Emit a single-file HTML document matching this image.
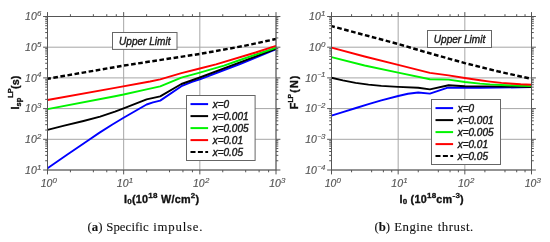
<!DOCTYPE html>
<html><head><meta charset="utf-8"><title>Figure</title>
<style>
html,body{margin:0;padding:0;background:#fff;}
body{filter:blur(0.3px);width:550px;height:242px;overflow:hidden;position:relative;}
svg{position:absolute;left:0;top:0;display:block;}
.capline{position:absolute;left:0;top:0;width:550px;height:0;font-size:0;}
.cap{position:absolute;display:block;-webkit-text-stroke:0.1px #111;font-family:"Liberation Serif",serif;font-size:12.8px;color:#111;white-space:nowrap;line-height:14px;top:220.2px;}
</style></head><body>
<svg width="550" height="242" viewBox="0 0 550 242">
<rect width="550" height="242" fill="#fff"/>
<line x1="47.50" y1="16.5" x2="47.50" y2="170.0" stroke="#a6a6a6" stroke-width="1"/>
<line x1="123.67" y1="16.5" x2="123.67" y2="170.0" stroke="#a6a6a6" stroke-width="1"/>
<line x1="199.83" y1="16.5" x2="199.83" y2="170.0" stroke="#a6a6a6" stroke-width="1"/>
<line x1="276.00" y1="16.5" x2="276.00" y2="170.0" stroke="#a6a6a6" stroke-width="1"/>
<line x1="47.5" y1="16.50" x2="276.0" y2="16.50" stroke="#a6a6a6" stroke-width="1"/>
<line x1="47.5" y1="47.20" x2="276.0" y2="47.20" stroke="#a6a6a6" stroke-width="1"/>
<line x1="47.5" y1="77.90" x2="276.0" y2="77.90" stroke="#a6a6a6" stroke-width="1"/>
<line x1="47.5" y1="108.60" x2="276.0" y2="108.60" stroke="#a6a6a6" stroke-width="1"/>
<line x1="47.5" y1="139.30" x2="276.0" y2="139.30" stroke="#a6a6a6" stroke-width="1"/>
<line x1="47.5" y1="170.00" x2="276.0" y2="170.00" stroke="#a6a6a6" stroke-width="1"/>
<clipPath id="c47"><rect x="47.5" y="16.5" width="228.5" height="153.5"/></clipPath>
<g clip-path="url(#c47)" fill="none" stroke-width="1.9" stroke-linejoin="round">
<polyline points="47.50,168.20 67.40,154.50 87.30,141.00 99.20,132.90 112.00,124.70 123.60,117.80 146.60,104.50 153.00,102.40 160.20,100.60 181.40,86.20 192.00,81.80 199.80,79.30 240.00,64.00 276.00,49.20" stroke="#0000ff"/>
<polyline points="47.50,129.80 64.20,125.70 83.50,121.00 100.10,116.60 115.00,111.60 123.60,108.40 146.60,99.40 160.20,96.40 181.40,84.00 199.80,77.50 240.00,62.30 276.00,48.70" stroke="#000000"/>
<polyline points="47.50,109.10 115.00,96.20 123.60,94.50 146.60,89.40 160.20,86.40 181.40,77.60 199.80,72.60 224.00,65.60 240.00,60.00 276.00,47.70" stroke="#00f400"/>
<polyline points="47.50,100.00 115.00,87.85 150.00,81.50 160.20,79.40 181.40,73.10 199.80,68.50 216.00,64.40 255.60,52.50 276.00,45.80" stroke="#ff0000"/>
<polyline points="47.50,78.80 123.60,65.60 200.00,53.90 243.60,46.00 276.00,39.00" stroke="#000000" stroke-dasharray="4.65 2.52" stroke-width="2.45" stroke-dashoffset="1.25"/>
</g>
<g stroke="#555555" stroke-width="1" fill="none">
<rect x="47.5" y="16.5" width="228.5" height="153.5"/>
<line x1="47.50" y1="12.1" x2="47.50" y2="16.5"/>
<line x1="47.50" y1="170.0" x2="47.50" y2="174.4"/>
<line x1="70.43" y1="14.2" x2="70.43" y2="16.5"/>
<line x1="70.43" y1="170.0" x2="70.43" y2="172.3"/>
<line x1="93.36" y1="14.2" x2="93.36" y2="16.5"/>
<line x1="93.36" y1="170.0" x2="93.36" y2="172.3"/>
<line x1="106.77" y1="14.2" x2="106.77" y2="16.5"/>
<line x1="106.77" y1="170.0" x2="106.77" y2="172.3"/>
<line x1="116.29" y1="14.2" x2="116.29" y2="16.5"/>
<line x1="116.29" y1="170.0" x2="116.29" y2="172.3"/>
<line x1="123.67" y1="12.1" x2="123.67" y2="16.5"/>
<line x1="123.67" y1="170.0" x2="123.67" y2="174.4"/>
<line x1="146.60" y1="14.2" x2="146.60" y2="16.5"/>
<line x1="146.60" y1="170.0" x2="146.60" y2="172.3"/>
<line x1="169.52" y1="14.2" x2="169.52" y2="16.5"/>
<line x1="169.52" y1="170.0" x2="169.52" y2="172.3"/>
<line x1="182.94" y1="14.2" x2="182.94" y2="16.5"/>
<line x1="182.94" y1="170.0" x2="182.94" y2="172.3"/>
<line x1="192.45" y1="14.2" x2="192.45" y2="16.5"/>
<line x1="192.45" y1="170.0" x2="192.45" y2="172.3"/>
<line x1="199.83" y1="12.1" x2="199.83" y2="16.5"/>
<line x1="199.83" y1="170.0" x2="199.83" y2="174.4"/>
<line x1="222.76" y1="14.2" x2="222.76" y2="16.5"/>
<line x1="222.76" y1="170.0" x2="222.76" y2="172.3"/>
<line x1="245.69" y1="14.2" x2="245.69" y2="16.5"/>
<line x1="245.69" y1="170.0" x2="245.69" y2="172.3"/>
<line x1="259.10" y1="14.2" x2="259.10" y2="16.5"/>
<line x1="259.10" y1="170.0" x2="259.10" y2="172.3"/>
<line x1="268.62" y1="14.2" x2="268.62" y2="16.5"/>
<line x1="268.62" y1="170.0" x2="268.62" y2="172.3"/>
<line x1="276.00" y1="12.1" x2="276.00" y2="16.5"/>
<line x1="276.00" y1="170.0" x2="276.00" y2="174.4"/>
<line x1="43.1" y1="16.50" x2="47.5" y2="16.50"/>
<line x1="276.0" y1="16.50" x2="280.4" y2="16.50"/>
<line x1="45.2" y1="37.96" x2="47.5" y2="37.96"/>
<line x1="276.0" y1="37.96" x2="278.3" y2="37.96"/>
<line x1="45.2" y1="32.55" x2="47.5" y2="32.55"/>
<line x1="276.0" y1="32.55" x2="278.3" y2="32.55"/>
<line x1="45.2" y1="28.72" x2="47.5" y2="28.72"/>
<line x1="276.0" y1="28.72" x2="278.3" y2="28.72"/>
<line x1="45.2" y1="25.74" x2="47.5" y2="25.74"/>
<line x1="276.0" y1="25.74" x2="278.3" y2="25.74"/>
<line x1="45.2" y1="23.31" x2="47.5" y2="23.31"/>
<line x1="276.0" y1="23.31" x2="278.3" y2="23.31"/>
<line x1="45.2" y1="21.26" x2="47.5" y2="21.26"/>
<line x1="276.0" y1="21.26" x2="278.3" y2="21.26"/>
<line x1="45.2" y1="19.48" x2="47.5" y2="19.48"/>
<line x1="276.0" y1="19.48" x2="278.3" y2="19.48"/>
<line x1="45.2" y1="17.90" x2="47.5" y2="17.90"/>
<line x1="276.0" y1="17.90" x2="278.3" y2="17.90"/>
<line x1="43.1" y1="47.20" x2="47.5" y2="47.20"/>
<line x1="276.0" y1="47.20" x2="280.4" y2="47.20"/>
<line x1="45.2" y1="68.66" x2="47.5" y2="68.66"/>
<line x1="276.0" y1="68.66" x2="278.3" y2="68.66"/>
<line x1="45.2" y1="63.25" x2="47.5" y2="63.25"/>
<line x1="276.0" y1="63.25" x2="278.3" y2="63.25"/>
<line x1="45.2" y1="59.42" x2="47.5" y2="59.42"/>
<line x1="276.0" y1="59.42" x2="278.3" y2="59.42"/>
<line x1="45.2" y1="56.44" x2="47.5" y2="56.44"/>
<line x1="276.0" y1="56.44" x2="278.3" y2="56.44"/>
<line x1="45.2" y1="54.01" x2="47.5" y2="54.01"/>
<line x1="276.0" y1="54.01" x2="278.3" y2="54.01"/>
<line x1="45.2" y1="51.96" x2="47.5" y2="51.96"/>
<line x1="276.0" y1="51.96" x2="278.3" y2="51.96"/>
<line x1="45.2" y1="50.18" x2="47.5" y2="50.18"/>
<line x1="276.0" y1="50.18" x2="278.3" y2="50.18"/>
<line x1="45.2" y1="48.60" x2="47.5" y2="48.60"/>
<line x1="276.0" y1="48.60" x2="278.3" y2="48.60"/>
<line x1="43.1" y1="77.90" x2="47.5" y2="77.90"/>
<line x1="276.0" y1="77.90" x2="280.4" y2="77.90"/>
<line x1="45.2" y1="99.36" x2="47.5" y2="99.36"/>
<line x1="276.0" y1="99.36" x2="278.3" y2="99.36"/>
<line x1="45.2" y1="93.95" x2="47.5" y2="93.95"/>
<line x1="276.0" y1="93.95" x2="278.3" y2="93.95"/>
<line x1="45.2" y1="90.12" x2="47.5" y2="90.12"/>
<line x1="276.0" y1="90.12" x2="278.3" y2="90.12"/>
<line x1="45.2" y1="87.14" x2="47.5" y2="87.14"/>
<line x1="276.0" y1="87.14" x2="278.3" y2="87.14"/>
<line x1="45.2" y1="84.71" x2="47.5" y2="84.71"/>
<line x1="276.0" y1="84.71" x2="278.3" y2="84.71"/>
<line x1="45.2" y1="82.66" x2="47.5" y2="82.66"/>
<line x1="276.0" y1="82.66" x2="278.3" y2="82.66"/>
<line x1="45.2" y1="80.88" x2="47.5" y2="80.88"/>
<line x1="276.0" y1="80.88" x2="278.3" y2="80.88"/>
<line x1="45.2" y1="79.30" x2="47.5" y2="79.30"/>
<line x1="276.0" y1="79.30" x2="278.3" y2="79.30"/>
<line x1="43.1" y1="108.60" x2="47.5" y2="108.60"/>
<line x1="276.0" y1="108.60" x2="280.4" y2="108.60"/>
<line x1="45.2" y1="130.06" x2="47.5" y2="130.06"/>
<line x1="276.0" y1="130.06" x2="278.3" y2="130.06"/>
<line x1="45.2" y1="124.65" x2="47.5" y2="124.65"/>
<line x1="276.0" y1="124.65" x2="278.3" y2="124.65"/>
<line x1="45.2" y1="120.82" x2="47.5" y2="120.82"/>
<line x1="276.0" y1="120.82" x2="278.3" y2="120.82"/>
<line x1="45.2" y1="117.84" x2="47.5" y2="117.84"/>
<line x1="276.0" y1="117.84" x2="278.3" y2="117.84"/>
<line x1="45.2" y1="115.41" x2="47.5" y2="115.41"/>
<line x1="276.0" y1="115.41" x2="278.3" y2="115.41"/>
<line x1="45.2" y1="113.36" x2="47.5" y2="113.36"/>
<line x1="276.0" y1="113.36" x2="278.3" y2="113.36"/>
<line x1="45.2" y1="111.58" x2="47.5" y2="111.58"/>
<line x1="276.0" y1="111.58" x2="278.3" y2="111.58"/>
<line x1="45.2" y1="110.00" x2="47.5" y2="110.00"/>
<line x1="276.0" y1="110.00" x2="278.3" y2="110.00"/>
<line x1="43.1" y1="139.30" x2="47.5" y2="139.30"/>
<line x1="276.0" y1="139.30" x2="280.4" y2="139.30"/>
<line x1="45.2" y1="160.76" x2="47.5" y2="160.76"/>
<line x1="276.0" y1="160.76" x2="278.3" y2="160.76"/>
<line x1="45.2" y1="155.35" x2="47.5" y2="155.35"/>
<line x1="276.0" y1="155.35" x2="278.3" y2="155.35"/>
<line x1="45.2" y1="151.52" x2="47.5" y2="151.52"/>
<line x1="276.0" y1="151.52" x2="278.3" y2="151.52"/>
<line x1="45.2" y1="148.54" x2="47.5" y2="148.54"/>
<line x1="276.0" y1="148.54" x2="278.3" y2="148.54"/>
<line x1="45.2" y1="146.11" x2="47.5" y2="146.11"/>
<line x1="276.0" y1="146.11" x2="278.3" y2="146.11"/>
<line x1="45.2" y1="144.06" x2="47.5" y2="144.06"/>
<line x1="276.0" y1="144.06" x2="278.3" y2="144.06"/>
<line x1="45.2" y1="142.28" x2="47.5" y2="142.28"/>
<line x1="276.0" y1="142.28" x2="278.3" y2="142.28"/>
<line x1="45.2" y1="140.70" x2="47.5" y2="140.70"/>
<line x1="276.0" y1="140.70" x2="278.3" y2="140.70"/>
<line x1="43.1" y1="170.00" x2="47.5" y2="170.00"/>
<line x1="276.0" y1="170.00" x2="280.4" y2="170.00"/>
</g>
<g font-family="'Liberation Sans', sans-serif" font-style="italic" font-size="10.5" fill="#555555" stroke="#555555" stroke-width="0.15">
<text x="40.70" y="187.3">10<tspan font-size="7.9" dy="-4.5" dx="0.2">0</tspan></text>
<text x="116.87" y="187.3">10<tspan font-size="7.9" dy="-4.5" dx="0.2">1</tspan></text>
<text x="193.03" y="187.3">10<tspan font-size="7.9" dy="-4.5" dx="0.2">2</tspan></text>
<text x="269.20" y="187.3">10<tspan font-size="7.9" dy="-4.5" dx="0.2">3</tspan></text>
<text x="41.50" y="20.30" text-anchor="end">10<tspan font-size="7.9" dy="-4.3" dx="0.3">6</tspan></text>
<text x="41.50" y="51.00" text-anchor="end">10<tspan font-size="7.9" dy="-4.3" dx="0.3">5</tspan></text>
<text x="41.50" y="81.70" text-anchor="end">10<tspan font-size="7.9" dy="-4.3" dx="0.3">4</tspan></text>
<text x="41.50" y="112.40" text-anchor="end">10<tspan font-size="7.9" dy="-4.3" dx="0.3">3</tspan></text>
<text x="41.50" y="143.10" text-anchor="end">10<tspan font-size="7.9" dy="-4.3" dx="0.3">2</tspan></text>
<text x="41.50" y="173.80" text-anchor="end">10<tspan font-size="7.9" dy="-4.3" dx="0.3">1</tspan></text>
</g>
<rect x="112.5" y="32.5" width="64.5" height="16.9" fill="#fff" stroke="#666" stroke-width="1"/>
<text x="144.75" y="44.60" text-anchor="middle" textLength="51.4" lengthAdjust="spacingAndGlyphs" font-family="'Liberation Sans', sans-serif" font-style="italic" font-size="10.3" fill="#1a1a1a" stroke="#1a1a1a" stroke-width="0.38">Upper Limit</text>
<rect x="186.5" y="95.5" width="68.6" height="65.0" fill="#fff" stroke="#666" stroke-width="1"/>
<line x1="190.5" y1="104.10" x2="208.1" y2="104.10" stroke="#0000ff" stroke-width="2"/>
<text x="212.7" y="107.70" font-family="'Liberation Sans', sans-serif" font-style="italic" font-size="10" fill="#1a1a1a" stroke="#1a1a1a" stroke-width="0.42">x=0</text>
<line x1="190.5" y1="116.10" x2="208.1" y2="116.10" stroke="#000000" stroke-width="2"/>
<text x="212.7" y="119.70" font-family="'Liberation Sans', sans-serif" font-style="italic" font-size="10" fill="#1a1a1a" stroke="#1a1a1a" stroke-width="0.42">x=0.001</text>
<line x1="190.5" y1="128.10" x2="208.1" y2="128.10" stroke="#00f400" stroke-width="2"/>
<text x="212.7" y="131.70" font-family="'Liberation Sans', sans-serif" font-style="italic" font-size="10" fill="#1a1a1a" stroke="#1a1a1a" stroke-width="0.42">x=0.005</text>
<line x1="190.5" y1="140.10" x2="208.1" y2="140.10" stroke="#ff0000" stroke-width="2"/>
<text x="212.7" y="143.70" font-family="'Liberation Sans', sans-serif" font-style="italic" font-size="10" fill="#1a1a1a" stroke="#1a1a1a" stroke-width="0.42">x=0.01</text>
<line x1="190.5" y1="152.10" x2="208.1" y2="152.10" stroke="#000000" stroke-width="2" stroke-dasharray="5 2.4"/>
<text x="212.7" y="155.70" font-family="'Liberation Sans', sans-serif" font-style="italic" font-size="10" fill="#1a1a1a" stroke="#1a1a1a" stroke-width="0.42">x=0.05</text>
<text transform="translate(18.6,109.4) rotate(-90)" font-family="'Liberation Sans', sans-serif" font-weight="bold" font-size="10.8" fill="#111" stroke="#111" stroke-width="0.33">I<tspan font-size="7.4" dy="2.2">sp</tspan><tspan font-size="7.4" dy="-7.6">LP</tspan><tspan dy="5.4" dx="-0.6">(s)</tspan></text>
<text x="124" y="202.6" font-family="'Liberation Sans', sans-serif" font-weight="bold" font-size="10.8" fill="#111" stroke="#111" stroke-width="0.33" letter-spacing="0.25">I<tspan font-size="8" dy="1.8">0</tspan><tspan dy="-1.8">(10</tspan><tspan font-size="8" dy="-4.4">18</tspan><tspan dy="4.4"> W/cm</tspan><tspan font-size="8" dy="-4.4">2</tspan><tspan dy="4.4">)</tspan></text>
<line x1="331.50" y1="16.5" x2="331.50" y2="170.0" stroke="#a6a6a6" stroke-width="1"/>
<line x1="398.17" y1="16.5" x2="398.17" y2="170.0" stroke="#a6a6a6" stroke-width="1"/>
<line x1="464.83" y1="16.5" x2="464.83" y2="170.0" stroke="#a6a6a6" stroke-width="1"/>
<line x1="531.50" y1="16.5" x2="531.50" y2="170.0" stroke="#a6a6a6" stroke-width="1"/>
<line x1="331.5" y1="16.50" x2="531.5" y2="16.50" stroke="#a6a6a6" stroke-width="1"/>
<line x1="331.5" y1="47.20" x2="531.5" y2="47.20" stroke="#a6a6a6" stroke-width="1"/>
<line x1="331.5" y1="77.90" x2="531.5" y2="77.90" stroke="#a6a6a6" stroke-width="1"/>
<line x1="331.5" y1="108.60" x2="531.5" y2="108.60" stroke="#a6a6a6" stroke-width="1"/>
<line x1="331.5" y1="139.30" x2="531.5" y2="139.30" stroke="#a6a6a6" stroke-width="1"/>
<line x1="331.5" y1="170.00" x2="531.5" y2="170.00" stroke="#a6a6a6" stroke-width="1"/>
<clipPath id="c331"><rect x="331.5" y="16.5" width="200.0" height="153.5"/></clipPath>
<g clip-path="url(#c331)" fill="none" stroke-width="1.9" stroke-linejoin="round">
<polyline points="331.50,115.70 342.80,112.20 356.00,108.00 368.50,104.10 381.30,100.40 398.20,96.00 408.00,93.80 418.20,92.50 429.90,93.60 447.80,87.60 480.00,87.80 531.50,87.15" stroke="#0000ff"/>
<polyline points="331.50,77.80 342.80,80.40 355.60,82.90 368.50,84.60 381.30,85.90 398.20,86.90 418.20,87.70 429.90,89.40 448.60,85.30 464.80,86.20 490.00,86.40 531.50,87.00" stroke="#000000"/>
<polyline points="331.50,57.20 364.60,65.50 398.20,72.60 429.90,79.20 448.60,79.60 464.80,82.00 480.00,83.60 490.00,84.40 501.50,85.00 520.70,85.80 531.50,86.10" stroke="#00f400"/>
<polyline points="331.50,47.60 364.60,56.50 398.20,64.80 429.90,72.90 448.60,75.40 464.80,78.00 480.00,80.30 490.00,81.60 501.50,82.90 520.70,84.30 531.50,84.80" stroke="#ff0000"/>
<polyline points="331.50,26.15 398.20,44.00 427.00,52.50 464.80,63.10 497.60,71.30 531.50,78.85" stroke="#000000" stroke-dasharray="4.65 2.52" stroke-width="2.45" stroke-dashoffset="1.25"/>
</g>
<g stroke="#555555" stroke-width="1" fill="none">
<rect x="331.5" y="16.5" width="200.0" height="153.5"/>
<line x1="331.50" y1="12.1" x2="331.50" y2="16.5"/>
<line x1="331.50" y1="170.0" x2="331.50" y2="174.4"/>
<line x1="351.57" y1="14.2" x2="351.57" y2="16.5"/>
<line x1="351.57" y1="170.0" x2="351.57" y2="172.3"/>
<line x1="371.64" y1="14.2" x2="371.64" y2="16.5"/>
<line x1="371.64" y1="170.0" x2="371.64" y2="172.3"/>
<line x1="383.38" y1="14.2" x2="383.38" y2="16.5"/>
<line x1="383.38" y1="170.0" x2="383.38" y2="172.3"/>
<line x1="391.71" y1="14.2" x2="391.71" y2="16.5"/>
<line x1="391.71" y1="170.0" x2="391.71" y2="172.3"/>
<line x1="398.17" y1="12.1" x2="398.17" y2="16.5"/>
<line x1="398.17" y1="170.0" x2="398.17" y2="174.4"/>
<line x1="418.24" y1="14.2" x2="418.24" y2="16.5"/>
<line x1="418.24" y1="170.0" x2="418.24" y2="172.3"/>
<line x1="438.30" y1="14.2" x2="438.30" y2="16.5"/>
<line x1="438.30" y1="170.0" x2="438.30" y2="172.3"/>
<line x1="450.04" y1="14.2" x2="450.04" y2="16.5"/>
<line x1="450.04" y1="170.0" x2="450.04" y2="172.3"/>
<line x1="458.37" y1="14.2" x2="458.37" y2="16.5"/>
<line x1="458.37" y1="170.0" x2="458.37" y2="172.3"/>
<line x1="464.83" y1="12.1" x2="464.83" y2="16.5"/>
<line x1="464.83" y1="170.0" x2="464.83" y2="174.4"/>
<line x1="484.90" y1="14.2" x2="484.90" y2="16.5"/>
<line x1="484.90" y1="170.0" x2="484.90" y2="172.3"/>
<line x1="504.97" y1="14.2" x2="504.97" y2="16.5"/>
<line x1="504.97" y1="170.0" x2="504.97" y2="172.3"/>
<line x1="516.71" y1="14.2" x2="516.71" y2="16.5"/>
<line x1="516.71" y1="170.0" x2="516.71" y2="172.3"/>
<line x1="525.04" y1="14.2" x2="525.04" y2="16.5"/>
<line x1="525.04" y1="170.0" x2="525.04" y2="172.3"/>
<line x1="531.50" y1="12.1" x2="531.50" y2="16.5"/>
<line x1="531.50" y1="170.0" x2="531.50" y2="174.4"/>
<line x1="327.1" y1="16.50" x2="331.5" y2="16.50"/>
<line x1="531.5" y1="16.50" x2="535.9" y2="16.50"/>
<line x1="329.2" y1="37.96" x2="331.5" y2="37.96"/>
<line x1="531.5" y1="37.96" x2="533.8" y2="37.96"/>
<line x1="329.2" y1="32.55" x2="331.5" y2="32.55"/>
<line x1="531.5" y1="32.55" x2="533.8" y2="32.55"/>
<line x1="329.2" y1="28.72" x2="331.5" y2="28.72"/>
<line x1="531.5" y1="28.72" x2="533.8" y2="28.72"/>
<line x1="329.2" y1="25.74" x2="331.5" y2="25.74"/>
<line x1="531.5" y1="25.74" x2="533.8" y2="25.74"/>
<line x1="329.2" y1="23.31" x2="331.5" y2="23.31"/>
<line x1="531.5" y1="23.31" x2="533.8" y2="23.31"/>
<line x1="329.2" y1="21.26" x2="331.5" y2="21.26"/>
<line x1="531.5" y1="21.26" x2="533.8" y2="21.26"/>
<line x1="329.2" y1="19.48" x2="331.5" y2="19.48"/>
<line x1="531.5" y1="19.48" x2="533.8" y2="19.48"/>
<line x1="329.2" y1="17.90" x2="331.5" y2="17.90"/>
<line x1="531.5" y1="17.90" x2="533.8" y2="17.90"/>
<line x1="327.1" y1="47.20" x2="331.5" y2="47.20"/>
<line x1="531.5" y1="47.20" x2="535.9" y2="47.20"/>
<line x1="329.2" y1="68.66" x2="331.5" y2="68.66"/>
<line x1="531.5" y1="68.66" x2="533.8" y2="68.66"/>
<line x1="329.2" y1="63.25" x2="331.5" y2="63.25"/>
<line x1="531.5" y1="63.25" x2="533.8" y2="63.25"/>
<line x1="329.2" y1="59.42" x2="331.5" y2="59.42"/>
<line x1="531.5" y1="59.42" x2="533.8" y2="59.42"/>
<line x1="329.2" y1="56.44" x2="331.5" y2="56.44"/>
<line x1="531.5" y1="56.44" x2="533.8" y2="56.44"/>
<line x1="329.2" y1="54.01" x2="331.5" y2="54.01"/>
<line x1="531.5" y1="54.01" x2="533.8" y2="54.01"/>
<line x1="329.2" y1="51.96" x2="331.5" y2="51.96"/>
<line x1="531.5" y1="51.96" x2="533.8" y2="51.96"/>
<line x1="329.2" y1="50.18" x2="331.5" y2="50.18"/>
<line x1="531.5" y1="50.18" x2="533.8" y2="50.18"/>
<line x1="329.2" y1="48.60" x2="331.5" y2="48.60"/>
<line x1="531.5" y1="48.60" x2="533.8" y2="48.60"/>
<line x1="327.1" y1="77.90" x2="331.5" y2="77.90"/>
<line x1="531.5" y1="77.90" x2="535.9" y2="77.90"/>
<line x1="329.2" y1="99.36" x2="331.5" y2="99.36"/>
<line x1="531.5" y1="99.36" x2="533.8" y2="99.36"/>
<line x1="329.2" y1="93.95" x2="331.5" y2="93.95"/>
<line x1="531.5" y1="93.95" x2="533.8" y2="93.95"/>
<line x1="329.2" y1="90.12" x2="331.5" y2="90.12"/>
<line x1="531.5" y1="90.12" x2="533.8" y2="90.12"/>
<line x1="329.2" y1="87.14" x2="331.5" y2="87.14"/>
<line x1="531.5" y1="87.14" x2="533.8" y2="87.14"/>
<line x1="329.2" y1="84.71" x2="331.5" y2="84.71"/>
<line x1="531.5" y1="84.71" x2="533.8" y2="84.71"/>
<line x1="329.2" y1="82.66" x2="331.5" y2="82.66"/>
<line x1="531.5" y1="82.66" x2="533.8" y2="82.66"/>
<line x1="329.2" y1="80.88" x2="331.5" y2="80.88"/>
<line x1="531.5" y1="80.88" x2="533.8" y2="80.88"/>
<line x1="329.2" y1="79.30" x2="331.5" y2="79.30"/>
<line x1="531.5" y1="79.30" x2="533.8" y2="79.30"/>
<line x1="327.1" y1="108.60" x2="331.5" y2="108.60"/>
<line x1="531.5" y1="108.60" x2="535.9" y2="108.60"/>
<line x1="329.2" y1="130.06" x2="331.5" y2="130.06"/>
<line x1="531.5" y1="130.06" x2="533.8" y2="130.06"/>
<line x1="329.2" y1="124.65" x2="331.5" y2="124.65"/>
<line x1="531.5" y1="124.65" x2="533.8" y2="124.65"/>
<line x1="329.2" y1="120.82" x2="331.5" y2="120.82"/>
<line x1="531.5" y1="120.82" x2="533.8" y2="120.82"/>
<line x1="329.2" y1="117.84" x2="331.5" y2="117.84"/>
<line x1="531.5" y1="117.84" x2="533.8" y2="117.84"/>
<line x1="329.2" y1="115.41" x2="331.5" y2="115.41"/>
<line x1="531.5" y1="115.41" x2="533.8" y2="115.41"/>
<line x1="329.2" y1="113.36" x2="331.5" y2="113.36"/>
<line x1="531.5" y1="113.36" x2="533.8" y2="113.36"/>
<line x1="329.2" y1="111.58" x2="331.5" y2="111.58"/>
<line x1="531.5" y1="111.58" x2="533.8" y2="111.58"/>
<line x1="329.2" y1="110.00" x2="331.5" y2="110.00"/>
<line x1="531.5" y1="110.00" x2="533.8" y2="110.00"/>
<line x1="327.1" y1="139.30" x2="331.5" y2="139.30"/>
<line x1="531.5" y1="139.30" x2="535.9" y2="139.30"/>
<line x1="329.2" y1="160.76" x2="331.5" y2="160.76"/>
<line x1="531.5" y1="160.76" x2="533.8" y2="160.76"/>
<line x1="329.2" y1="155.35" x2="331.5" y2="155.35"/>
<line x1="531.5" y1="155.35" x2="533.8" y2="155.35"/>
<line x1="329.2" y1="151.52" x2="331.5" y2="151.52"/>
<line x1="531.5" y1="151.52" x2="533.8" y2="151.52"/>
<line x1="329.2" y1="148.54" x2="331.5" y2="148.54"/>
<line x1="531.5" y1="148.54" x2="533.8" y2="148.54"/>
<line x1="329.2" y1="146.11" x2="331.5" y2="146.11"/>
<line x1="531.5" y1="146.11" x2="533.8" y2="146.11"/>
<line x1="329.2" y1="144.06" x2="331.5" y2="144.06"/>
<line x1="531.5" y1="144.06" x2="533.8" y2="144.06"/>
<line x1="329.2" y1="142.28" x2="331.5" y2="142.28"/>
<line x1="531.5" y1="142.28" x2="533.8" y2="142.28"/>
<line x1="329.2" y1="140.70" x2="331.5" y2="140.70"/>
<line x1="531.5" y1="140.70" x2="533.8" y2="140.70"/>
<line x1="327.1" y1="170.00" x2="331.5" y2="170.00"/>
<line x1="531.5" y1="170.00" x2="535.9" y2="170.00"/>
</g>
<g font-family="'Liberation Sans', sans-serif" font-style="italic" font-size="10.5" fill="#555555" stroke="#555555" stroke-width="0.15">
<text x="324.70" y="187.3">10<tspan font-size="7.9" dy="-4.5" dx="0.2">0</tspan></text>
<text x="391.37" y="187.3">10<tspan font-size="7.9" dy="-4.5" dx="0.2">1</tspan></text>
<text x="458.03" y="187.3">10<tspan font-size="7.9" dy="-4.5" dx="0.2">2</tspan></text>
<text x="524.70" y="187.3">10<tspan font-size="7.9" dy="-4.5" dx="0.2">3</tspan></text>
<text x="325.50" y="20.30" text-anchor="end">10<tspan font-size="7.9" dy="-4.3" dx="0.3">1</tspan></text>
<text x="325.50" y="51.00" text-anchor="end">10<tspan font-size="7.9" dy="-4.3" dx="0.3">0</tspan></text>
<text x="325.50" y="81.70" text-anchor="end">10<tspan font-size="6.6" dy="-4.6" dx="0.3">−</tspan><tspan font-size="7.9" dy="0.3">1</tspan></text>
<text x="325.50" y="112.40" text-anchor="end">10<tspan font-size="6.6" dy="-4.6" dx="0.3">−</tspan><tspan font-size="7.9" dy="0.3">2</tspan></text>
<text x="325.50" y="143.10" text-anchor="end">10<tspan font-size="6.6" dy="-4.6" dx="0.3">−</tspan><tspan font-size="7.9" dy="0.3">3</tspan></text>
<text x="325.50" y="173.80" text-anchor="end">10<tspan font-size="6.6" dy="-4.6" dx="0.3">−</tspan><tspan font-size="7.9" dy="0.3">4</tspan></text>
</g>
<rect x="427.5" y="30.5" width="64.0" height="17.0" fill="#fff" stroke="#666" stroke-width="1"/>
<text x="459.50" y="42.70" text-anchor="middle" textLength="51.4" lengthAdjust="spacingAndGlyphs" font-family="'Liberation Sans', sans-serif" font-style="italic" font-size="10.3" fill="#1a1a1a" stroke="#1a1a1a" stroke-width="0.38">Upper Limit</text>
<rect x="431.5" y="99.5" width="69.0" height="65.0" fill="#fff" stroke="#666" stroke-width="1"/>
<line x1="435.5" y1="108.10" x2="453.1" y2="108.10" stroke="#0000ff" stroke-width="2"/>
<text x="457.7" y="111.70" font-family="'Liberation Sans', sans-serif" font-style="italic" font-size="10" fill="#1a1a1a" stroke="#1a1a1a" stroke-width="0.42">x=0</text>
<line x1="435.5" y1="120.10" x2="453.1" y2="120.10" stroke="#000000" stroke-width="2"/>
<text x="457.7" y="123.70" font-family="'Liberation Sans', sans-serif" font-style="italic" font-size="10" fill="#1a1a1a" stroke="#1a1a1a" stroke-width="0.42">x=0.001</text>
<line x1="435.5" y1="132.10" x2="453.1" y2="132.10" stroke="#00f400" stroke-width="2"/>
<text x="457.7" y="135.70" font-family="'Liberation Sans', sans-serif" font-style="italic" font-size="10" fill="#1a1a1a" stroke="#1a1a1a" stroke-width="0.42">x=0.005</text>
<line x1="435.5" y1="144.10" x2="453.1" y2="144.10" stroke="#ff0000" stroke-width="2"/>
<text x="457.7" y="147.70" font-family="'Liberation Sans', sans-serif" font-style="italic" font-size="10" fill="#1a1a1a" stroke="#1a1a1a" stroke-width="0.42">x=0.01</text>
<line x1="435.5" y1="156.10" x2="453.1" y2="156.10" stroke="#000000" stroke-width="2" stroke-dasharray="5 2.4"/>
<text x="457.7" y="159.70" font-family="'Liberation Sans', sans-serif" font-style="italic" font-size="10" fill="#1a1a1a" stroke="#1a1a1a" stroke-width="0.42">x=0.05</text>
<text transform="translate(297.8,109.2) rotate(-90)" font-family="'Liberation Sans', sans-serif" font-weight="bold" font-size="10.8" fill="#111" stroke="#111" stroke-width="0.33">F<tspan font-size="6.8" dy="-5">LP</tspan><tspan dy="5" dx="1.2" letter-spacing="1">(N)</tspan></text>
<text x="399.4" y="202.6" font-family="'Liberation Sans', sans-serif" font-weight="bold" font-size="10.8" fill="#111" stroke="#111" stroke-width="0.33" letter-spacing="0.25">I<tspan font-size="8" dy="1.8">0</tspan><tspan dy="-1.8"> (10</tspan><tspan font-size="8" dy="-4.4">18</tspan><tspan dy="4.4">cm</tspan><tspan font-size="8" dy="-4.4">-3</tspan><tspan dy="4.4">)</tspan></text>
</svg>
<div class="capline"><span class="cap" style="left:87.6px;">(<b>a</b>)</span> <span class="cap" style="left:106.2px;letter-spacing:0.08px;">Specific</span> <span class="cap" style="left:153.3px;letter-spacing:0.76px;">impulse.</span></div>
<div class="capline"><span class="cap" style="left:374.4px;">(<b>b</b>)</span> <span class="cap" style="left:394.3px;letter-spacing:0.44px;">Engine</span> <span class="cap" style="left:437.8px;letter-spacing:0.5px;">thrust.</span></div>
</body></html>
